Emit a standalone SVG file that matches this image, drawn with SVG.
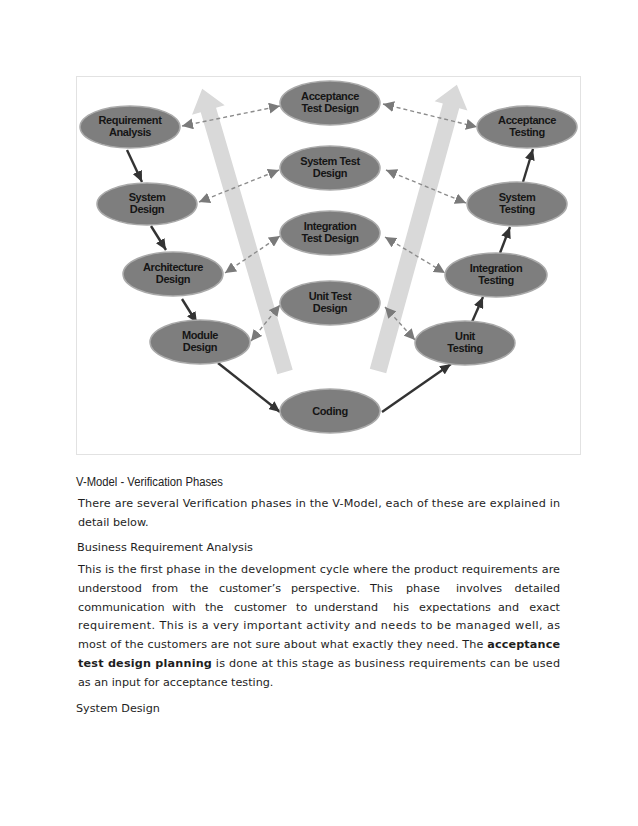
<svg xmlns="http://www.w3.org/2000/svg" width="638" height="826" viewBox="0 0 638 826">
<style>
.node ellipse{fill:#7e7e7e;stroke:#aaaaaa;stroke-width:1.5}
.node text{font-family:"Liberation Sans",Arial,sans-serif;font-weight:bold;font-size:11px;fill:#151515;text-anchor:middle;letter-spacing:-0.4px}
.solid{stroke:#333;stroke-width:2.4;fill:none;marker-end:url(#ah)}
.dash{stroke:#8c8c8c;stroke-width:1.4;stroke-dasharray:4 3;fill:none;marker-end:url(#dh);marker-start:url(#dhs)}
.bar{fill:#d9d9d9}
.cap{font-family:"Liberation Sans",Arial,sans-serif;font-size:12px;fill:#222}
.body{font-family:"DejaVu Sans",Verdana,sans-serif;font-size:11.2px;fill:#1e1e1e}
.b{font-weight:bold}
.end{text-anchor:end}
</style>
<defs>
<marker id="ah" markerUnits="userSpaceOnUse" markerWidth="12" markerHeight="10" refX="11" refY="5" orient="auto"><path d="M0,0 L11,5 L0,10 Z" fill="#333"/></marker>
<marker id="dh" markerUnits="userSpaceOnUse" markerWidth="12" markerHeight="11" refX="11" refY="5.5" orient="auto"><path d="M0,0 L11,5.5 L0,11 Z" fill="#7a7a7a"/></marker>
<marker id="dhs" markerUnits="userSpaceOnUse" markerWidth="12" markerHeight="11" refX="11" refY="5.5" orient="auto-start-reverse"><path d="M0,0 L11,5.5 L0,11 Z" fill="#7a7a7a"/></marker>
</defs>
<rect x="0" y="0" width="638" height="826" fill="#ffffff"/>
<rect x="76.5" y="76.5" width="504" height="378" fill="#ffffff" stroke="#e2e2e2" stroke-width="1"/>
<g id="bars">
<polygon class="bar" transform="translate(285,372) rotate(-16.3)" points="-8,0 8,0 8,-273 17,-273 0,-295 -17,-273 -8,-273"/>
<polygon class="bar" transform="translate(378,371) rotate(15.4)" points="-8.5,0 8.5,0 8.5,-275 17,-275 0,-297 -17,-275 -8.5,-275"/>
</g>
<g id="connectors">
<line class="solid" x1="127" y1="150" x2="142" y2="182"/>
<line class="solid" x1="151" y1="226" x2="166" y2="250"/>
<line class="solid" x1="182" y1="299" x2="197" y2="323"/>
<line class="solid" x1="218" y1="363" x2="280" y2="412"/>
<line class="solid" x1="382" y1="412" x2="451" y2="364"/>
<line class="solid" x1="472" y1="322" x2="483" y2="297"/>
<line class="solid" x1="500" y1="253" x2="510" y2="227"/>
<line class="solid" x1="523" y1="182" x2="533" y2="149"/>
<line class="dash" x1="182" y1="126" x2="280" y2="106"/>
<line class="dash" x1="383" y1="104" x2="477" y2="127"/>
<line class="dash" x1="199" y1="202" x2="279" y2="170"/>
<line class="dash" x1="386" y1="170" x2="466" y2="203"/>
<line class="dash" x1="225" y1="273" x2="280" y2="236"/>
<line class="dash" x1="385" y1="237" x2="445" y2="273"/>
<line class="dash" x1="251" y1="341" x2="280" y2="305"/>
<line class="dash" x1="385" y1="307" x2="415" y2="340"/>
</g>
<g id="n-req" class="node"><ellipse cx="130" cy="127" rx="50" ry="21"/><text x="130" y="124">Requirement</text><text x="130" y="136">Analysis</text></g>
<g id="n-sysdes" class="node"><ellipse cx="147" cy="204" rx="50" ry="21"/><text x="147" y="201">System</text><text x="147" y="213">Design</text></g>
<g id="n-arch" class="node"><ellipse cx="173" cy="274" rx="50" ry="22"/><text x="173" y="271">Architecture</text><text x="173" y="283">Design</text></g>
<g id="n-mod" class="node"><ellipse cx="200" cy="342" rx="50" ry="22"/><text x="200" y="339">Module</text><text x="200" y="351">Design</text></g>
<g id="n-coding" class="node"><ellipse cx="330" cy="411" rx="50" ry="22"/><text x="330" y="415">Coding</text></g>
<g id="n-unit" class="node"><ellipse cx="465" cy="343" rx="50" ry="22"/><text x="465" y="340">Unit</text><text x="465" y="352">Testing</text></g>
<g id="n-int" class="node"><ellipse cx="496" cy="275" rx="51" ry="22"/><text x="496" y="272">Integration</text><text x="496" y="284">Testing</text></g>
<g id="n-systest" class="node"><ellipse cx="517" cy="204" rx="50" ry="22"/><text x="517" y="201">System</text><text x="517" y="213">Testing</text></g>
<g id="n-acc" class="node"><ellipse cx="527" cy="127" rx="50" ry="21"/><text x="527" y="124">Acceptance</text><text x="527" y="136">Testing</text></g>
<g id="n-atd" class="node"><ellipse cx="330" cy="103" rx="50" ry="22"/><text x="330" y="100">Acceptance</text><text x="330" y="112">Test Design</text></g>
<g id="n-std" class="node"><ellipse cx="330" cy="168" rx="50" ry="22"/><text x="330" y="165">System Test</text><text x="330" y="177">Design</text></g>
<g id="n-itd" class="node"><ellipse cx="330" cy="233" rx="50" ry="22"/><text x="330" y="230">Integration</text><text x="330" y="242">Test Design</text></g>
<g id="n-utd" class="node"><ellipse cx="330" cy="303" rx="50" ry="22"/><text x="330" y="300">Unit Test</text><text x="330" y="312">Design</text></g>
<g id="text">
<text class="cap" x="76" y="486" textLength="147" lengthAdjust="spacingAndGlyphs">V-Model - Verification Phases</text>
<text class="body" x="78" y="507" textLength="482" lengthAdjust="spacing">There are several Verification phases in the V-Model, each of these are explained in</text>
<text class="body" x="78" y="526">detail below.</text>
<text class="body" x="77" y="551" textLength="176" lengthAdjust="spacingAndGlyphs">Business Requirement Analysis</text>
<text class="body" x="78" y="573" textLength="482" lengthAdjust="spacing">This is the first phase in the development cycle where the product requirements are</text>
<text class="body" y="592"><tspan x="78">understood</tspan><tspan x="152">from</tspan><tspan x="190">the</tspan><tspan x="219">customer’s</tspan><tspan x="291">perspective.</tspan><tspan x="370">This</tspan><tspan x="406">phase</tspan><tspan x="456">involves</tspan></text>
<text class="body end" x="560" y="592">detailed</text>
<text class="body" y="611"><tspan x="78">communication</tspan><tspan x="172">with</tspan><tspan x="205">the</tspan><tspan x="234">customer</tspan><tspan x="296">to</tspan><tspan x="314">understand</tspan><tspan x="393">his</tspan><tspan x="419">expectations</tspan><tspan x="498">and</tspan></text>
<text class="body end" x="560" y="611">exact</text>
<text class="body" x="78" y="629" textLength="482" lengthAdjust="spacing">requirement. This is a very important activity and needs to be managed well, as</text>
<text class="body" x="78" y="648" textLength="482" lengthAdjust="spacing">most of the customers are not sure about what exactly they need. The <tspan class="b">acceptance</tspan></text>
<text class="body" x="78" y="667" textLength="482" lengthAdjust="spacing"><tspan class="b">test design planning</tspan> is done at this stage as business requirements can be used</text>
<text class="body" x="78" y="686">as an input for acceptance testing.</text>
<text class="body" x="76" y="712">System Design</text>
</g>
</svg>
